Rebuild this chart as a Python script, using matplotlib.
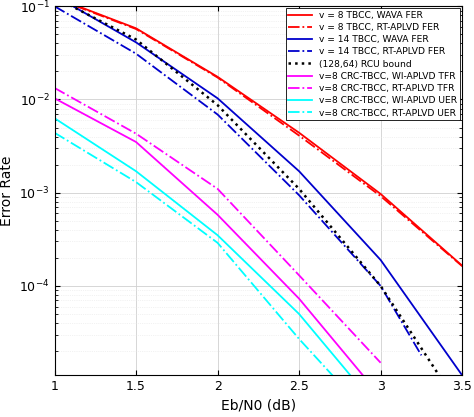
import matplotlib
matplotlib.use("Agg")
import matplotlib.pyplot as plt

x_full = [1, 1.5, 2, 2.5, 3, 3.5]
red_wava = [0.125, 0.058, 0.0175, 0.0044, 0.00097, 0.000165]
red_rt = [0.123, 0.057, 0.0172, 0.0041, 0.00092, 0.000163]
blue_wava = [0.13, 0.041, 0.0103, 0.0017, 0.00019, 0.000011]
x_blue_rt = [1, 1.5, 2, 2.5, 3, 3.25]
blue_rt = [0.1, 0.031, 0.0069, 0.00094, 0.0001, 0.000018]
x_rcu = [1, 1.5, 2, 2.5, 3, 3.4]
rcu = [0.125, 0.044, 0.0087, 0.0011, 0.0001, 0.0000085]
x_mag = [1, 1.5, 2, 2.5, 3]
mag_wi = [0.0103, 0.0035, 0.00058, 0.000073, 0.0000065]
mag_rt = [0.0133, 0.0043, 0.0011, 0.00013, 0.000015]
x_cy = [1, 1.5, 2, 2.5, 3]
cy_wi = [0.0063, 0.0017, 0.00035, 0.00005, 0.0000045]
cy_rt = [0.0044, 0.0013, 0.00029, 0.000027, 0.000003]

fig, ax = plt.subplots(figsize=(4.74, 4.17), dpi=100)
fig.subplots_adjust(left=0.115, right=0.975, top=0.985, bottom=0.1)
lw = 1.3
ax.semilogy(x_full, red_wava, '-', color='#ff0000', lw=lw, label='v = 8 TBCC, WAVA FER')
ax.semilogy(x_full, red_rt, '-.', color='#ff0000', lw=lw, label='v = 8 TBCC, RT-APLVD FER')
ax.semilogy(x_full, blue_wava, '-', color='#0000cc', lw=lw, label='v = 14 TBCC, WAVA FER')
ax.semilogy(x_blue_rt, blue_rt, '-.', color='#0000cc', lw=lw, label='v = 14 TBCC, RT-APLVD FER')
ax.semilogy(x_rcu, rcu, ':', color='black', lw=1.8, label='(128,64) RCU bound')
ax.semilogy(x_mag, mag_wi, '-', color='#ff00ff', lw=lw, label='v=8 CRC-TBCC, WI-APLVD TFR')
ax.semilogy(x_mag, mag_rt, '-.', color='#ff00ff', lw=lw, label='v=8 CRC-TBCC, RT-APLVD TFR')
ax.semilogy(x_cy, cy_wi, '-', color='#00ffff', lw=lw, label='v=8 CRC-TBCC, WI-APLVD UER')
ax.semilogy(x_cy, cy_rt, '-.', color='#00ffff', lw=lw, label='v=8 CRC-TBCC, RT-APLVD UER')

ax.set_xlim(1, 3.5)
ax.set_ylim(1.1e-5, 0.1)
ax.set_xticks([1, 1.5, 2, 2.5, 3, 3.5])
ax.set_xticklabels(['1', '1.5', '2', '2.5', '3', '3.5'])
ax.set_yticks([1e-4, 1e-3, 1e-2, 1e-1])
ax.tick_params(labelsize=9, direction='in', which='both', top=True, right=True)
ax.grid(True, which='major', color='#d0d0d0', lw=0.6)
ax.grid(True, which='minor', axis='y', color='#e6e6e6', lw=0.5, ls=':')
ax.set_xlabel('Eb/N0 (dB)', fontsize=10)
ax.set_ylabel('Error Rate', fontsize=10)
leg = ax.legend(loc='upper right', fontsize=6.6, frameon=True, fancybox=False,
                edgecolor='black', framealpha=1, borderaxespad=0.2,
                handlelength=2.6, labelspacing=0.35, borderpad=0.3)
leg.get_frame().set_linewidth(0.6)
fig.savefig('out.png', dpi=100)
